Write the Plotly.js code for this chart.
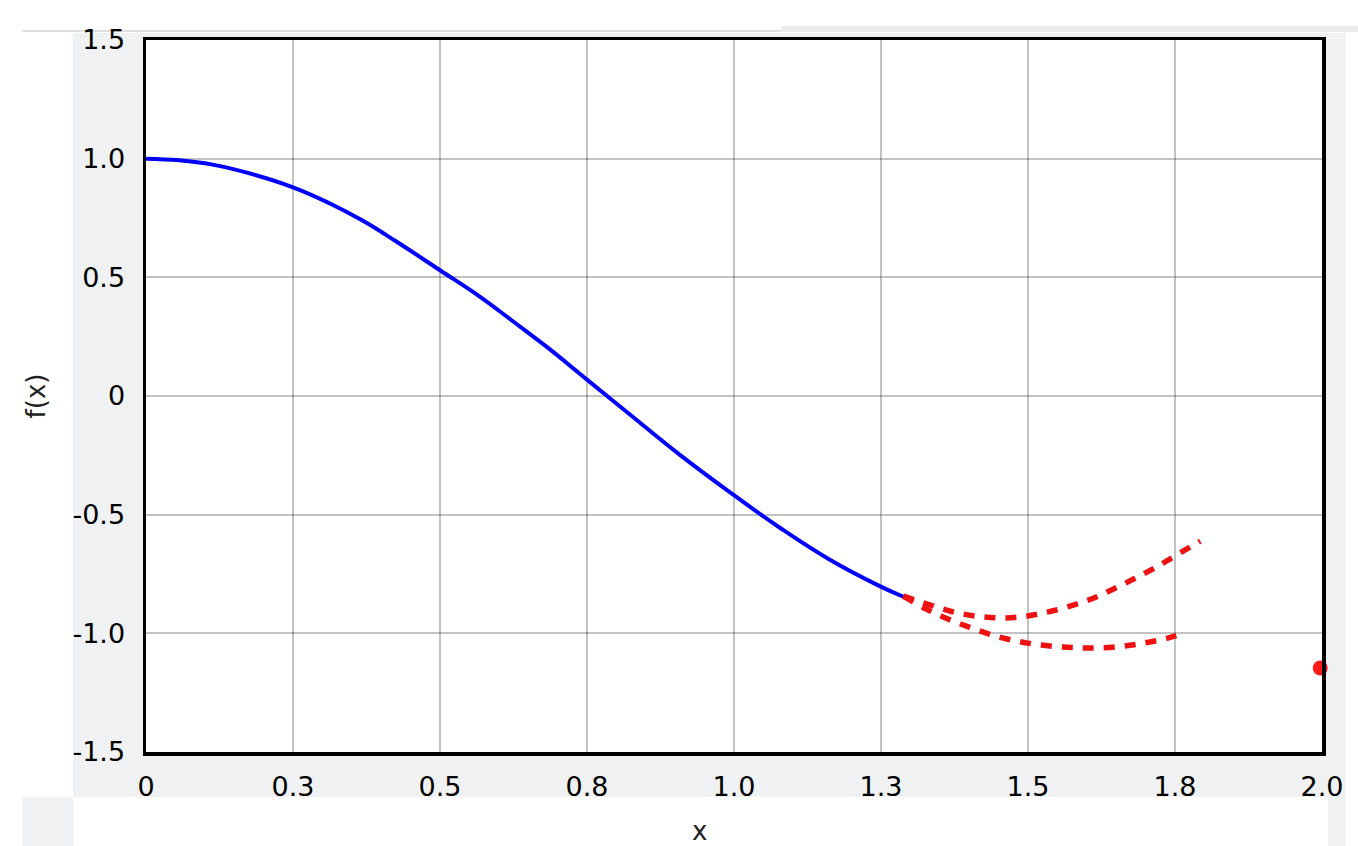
<!DOCTYPE html>
<html>
<head>
<meta charset="utf-8">
<script src="https://cdn.plot.ly/plotly-3.0.1.min.js"></script>
<style>
  html, body { margin: 0; padding: 0; background: #ffffff; }
  #chart { width: 1358px; height: 846px; }
</style>
</head>
<body>
<div id="chart"></div>
<script>
// blue solid curve
const blueX = [0, 0.057, 0.113, 0.17, 0.25, 0.312, 0.369, 0.425, 0.5, 0.567, 0.624, 0.68, 0.751, 0.823, 0.908, 1.0, 1.078, 1.163, 1.247, 1.288];
const blueY = [1.0, 0.993, 0.975, 0.942, 0.879, 0.812, 0.738, 0.652, 0.530, 0.42, 0.315, 0.21, 0.067, -0.078, -0.248, -0.418, -0.555, -0.690, -0.800, -0.846];

// red dashed continuations
const upperX = [1.288, 1.33, 1.37, 1.41, 1.45, 1.49, 1.53, 1.577, 1.614, 1.648, 1.682, 1.716, 1.75, 1.793];
const upperY = [-0.843, -0.878, -0.908, -0.927, -0.935, -0.930, -0.912, -0.881, -0.849, -0.810, -0.768, -0.724, -0.674, -0.611];
const lowerX = [1.288, 1.328, 1.365, 1.401, 1.435, 1.472, 1.509, 1.549, 1.586, 1.622, 1.662, 1.699, 1.736, 1.764];
const lowerY = [-0.843, -0.899, -0.941, -0.975, -1.004, -1.028, -1.045, -1.056, -1.061, -1.061, -1.054, -1.040, -1.021, -1.0];

// single red point at the right edge
const pointX = [1.997];
const pointY = [-1.146];

const xTickVals = [0, 0.25, 0.5, 0.75, 1.0, 1.25, 1.5, 1.75, 2.0];
const xTickText = ['0', '0.3', '0.5', '0.8', '1.0', '1.3', '1.5', '1.8', '2.0'];
const yTickVals = [-1.5, -1, -0.5, 0, 0.5, 1, 1.5];
const yTickText = ['-1.5', '-1.0', '-0.5', '0', '0.5', '1.0', '1.5'];

const FONT = 'DejaVu Sans, Verdana, sans-serif';
const GREY = '#f0f1f3';

const traces = [
    {
        x: blueX, y: blueY,
        type: 'scatter', mode: 'lines',
        line: { color: '#0000ff', width: 4, shape: 'spline', smoothing: 1.2 },
        hoverinfo: 'skip'
    },
    {
        x: upperX, y: upperY,
        type: 'scatter', mode: 'lines',
        line: { color: '#ee1111', width: 5.5, dash: '11px,10px', shape: 'spline' },
        hoverinfo: 'skip'
    },
    {
        x: lowerX, y: lowerY,
        type: 'scatter', mode: 'lines',
        line: { color: '#ee1111', width: 5.5, dash: '11px,10px', shape: 'spline' },
        hoverinfo: 'skip'
    },
    {
        x: pointX, y: pointY,
        type: 'scatter', mode: 'markers',
        marker: { color: '#ff1a1a', size: 15 },
        cliponaxis: false,
        hoverinfo: 'skip'
    }
];

// grey page panels behind the plot, in paper units (plot area = 0..1)
const panel = (x0, x1, y0, y1, color) => ({
    type: 'rect', xref: 'paper', yref: 'paper', layer: 'below',
    x0, x1, y0, y1, fillcolor: color, line: { width: 0 }
});

const layout = {
    width: 1358,
    height: 846,
    showlegend: false,
    margin: { l: 146, r: 36, t: 40, b: 94 },
    paper_bgcolor: '#ffffff',
    plot_bgcolor: 'rgba(0,0,0,0)',
    font: { family: FONT, color: '#000000' },
    xaxis: {
        range: [0, 2],
        tickvals: xTickVals,
        ticktext: xTickText,
        tickfont: { family: FONT, size: 27, color: '#000000' },
        ticks: '',
        ticklabelstandoff: 8,
        showgrid: true,
        gridcolor: 'rgba(0,0,0,0.24)',
        gridwidth: 2,
        zeroline: false,
        showline: true,
        mirror: true,
        linecolor: '#000000',
        linewidth: 3.5
    },
    yaxis: {
        range: [-1.5, 1.5],
        tickvals: yTickVals,
        ticktext: yTickText,
        tickfont: { family: FONT, size: 27, color: '#000000' },
        ticks: '',
        ticklabelstandoff: 12,
        showgrid: true,
        gridcolor: 'rgba(0,0,0,0.24)',
        gridwidth: 2,
        zeroline: false,
        showline: true,
        mirror: true,
        linecolor: '#000000',
        linewidth: 3.5,
        title: { text: 'f(x)', font: { family: FONT, size: 26, color: '#222222' }, standoff: 20 }
    },
    // x title sits left of the plot centre in the original, so place it by hand
    annotations: [{
        text: 'x', xref: 'paper', yref: 'paper',
        x: 0.471, y: -0.111, xanchor: 'center', yanchor: 'middle',
        showarrow: false,
        font: { family: FONT, size: 26, color: '#222222' }
    }],
    shapes: [
        panel(-0.0621, 1.0204, -0.0632, 1.0098, GREY),
        panel(-0.1054, -0.0621, -0.132, -0.0632, GREY),
        panel(1.0051, 1.0204, -0.132, -0.0632, GREY),
        panel(0.54, 1.031, 1.0112, 1.0197, '#ececec'),
        panel(0, 1, 0, 1, '#ffffff'),
        {
            type: 'line', xref: 'paper', yref: 'paper', layer: 'below',
            x0: -0.1054, x1: 0.54, y0: 1.0126, y1: 1.0126,
            line: { color: '#d4d4d4', width: 1.5 }
        }
    ]
};

Plotly.newPlot('chart', traces, layout, { displayModeBar: false, staticPlot: true });
</script>
</body>
</html>
